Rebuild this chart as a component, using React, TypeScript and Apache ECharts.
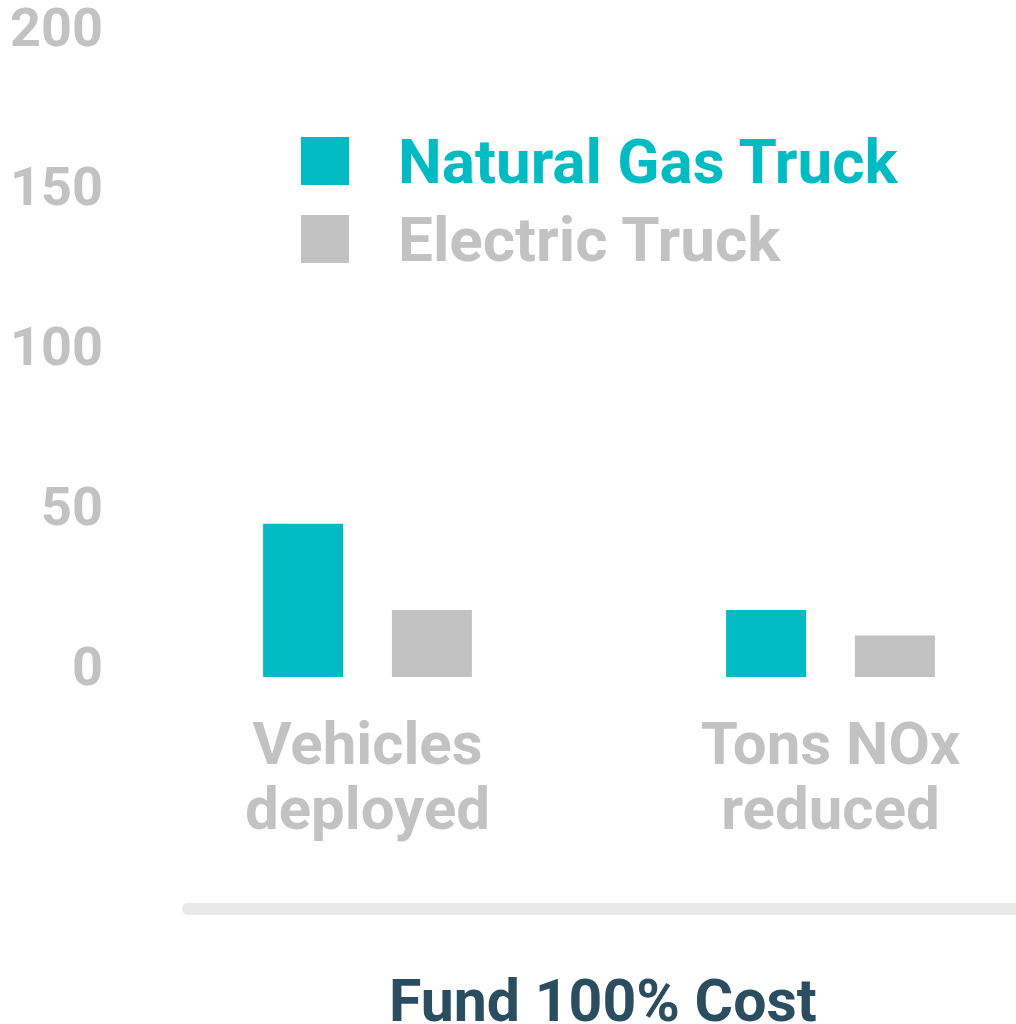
import * as echarts from 'echarts';
import React, { useEffect, useRef } from 'react';

const categories = ['Vehicles\ndeployed', 'Tons NOx\nreduced'];
const naturalGas = [48, 21];
const electric = [21, 13];
const seriesNames = ['Natural Gas Truck', 'Electric Truck'];
const yTicks = { min: 0, max: 200, interval: 50 };
const chartTitle = 'Fund 100% Cost';

const TEAL = '#00bcc2';
const GRAY = '#c2c2c2';
const FONT = 'Roboto, "Noto Sans", sans-serif';

const App: React.FC = () => {
  const chartRef = useRef<HTMLDivElement>(null);

  useEffect(() => {
    document.body.style.margin = '0';
    const myChart = echarts.init(chartRef.current!, undefined, { renderer: 'svg' });

    const legendBase = {
      orient: 'vertical',
      left: 301,
      padding: 0,
      icon: 'rect',
      itemWidth: 48,
      itemHeight: 48,
      textStyle: { fontSize: 62, fontWeight: 'bold', padding: [0, 0, 0, 44] },
    };

    const option = {
      animation: false,
      backgroundColor: '#ffffff',
      textStyle: { fontFamily: FONT },
      title: {
        text: chartTitle,
        left: 389,
        top: 980,
        padding: 0,
        textStyle: { color: '#2b4d60', fontSize: 59, fontWeight: 'bold', lineHeight: 40, fontFamily: FONT },
      },
      legend: [
        { ...legendBase, top: 130, data: [{ name: seriesNames[0], textStyle: { color: TEAL } }] },
        { ...legendBase, top: 208, data: [{ name: seriesNames[1], textStyle: { color: GRAY } }] },
      ],
      // category centres sit on the grid edges (boundaryGap false)
      grid: { left: 367.5, right: 185.5, top: 32, bottom: 347, containLabel: false },
      xAxis: {
        type: 'category',
        data: categories,
        boundaryGap: false,
        axisLine: { show: false },
        axisTick: { show: false },
        axisLabel: {
          color: GRAY,
          fontSize: 60,
          fontWeight: 'bold',
          lineHeight: 65,
          margin: 34,
        },
      },
      yAxis: {
        type: 'value',
        min: yTicks.min,
        max: yTicks.max,
        interval: yTicks.interval,
        axisLine: { show: false },
        axisTick: { show: false },
        splitLine: { show: false },
        axisLabel: {
          color: GRAY,
          fontSize: 54,
          fontWeight: 'bold',
          margin: 264.5,
          verticalAlign: 'bottom',
          lineHeight: 22,
        },
      },
      graphic: [
        {
          type: 'line',
          shape: { x1: 188, y1: 909, x2: 1030, y2: 909 },
          style: { stroke: '#e9e9e9', lineWidth: 12, lineCap: 'round' },
        },
      ],
      series: [
        {
          name: seriesNames[0],
          type: 'bar',
          data: naturalGas,
          barWidth: 80,
          barGap: '61%',
          clip: false,
          itemStyle: { color: TEAL },
        },
        {
          name: seriesNames[1],
          type: 'bar',
          data: electric,
          barWidth: 80,
          clip: false,
          itemStyle: { color: GRAY },
        },
      ],
    };

    myChart.setOption(option);

    return () => {
      myChart.dispose();
    };
  }, []);

  return <div ref={chartRef} style={{ width: '1016px', height: '1024px' }} />;
};

export default App;
